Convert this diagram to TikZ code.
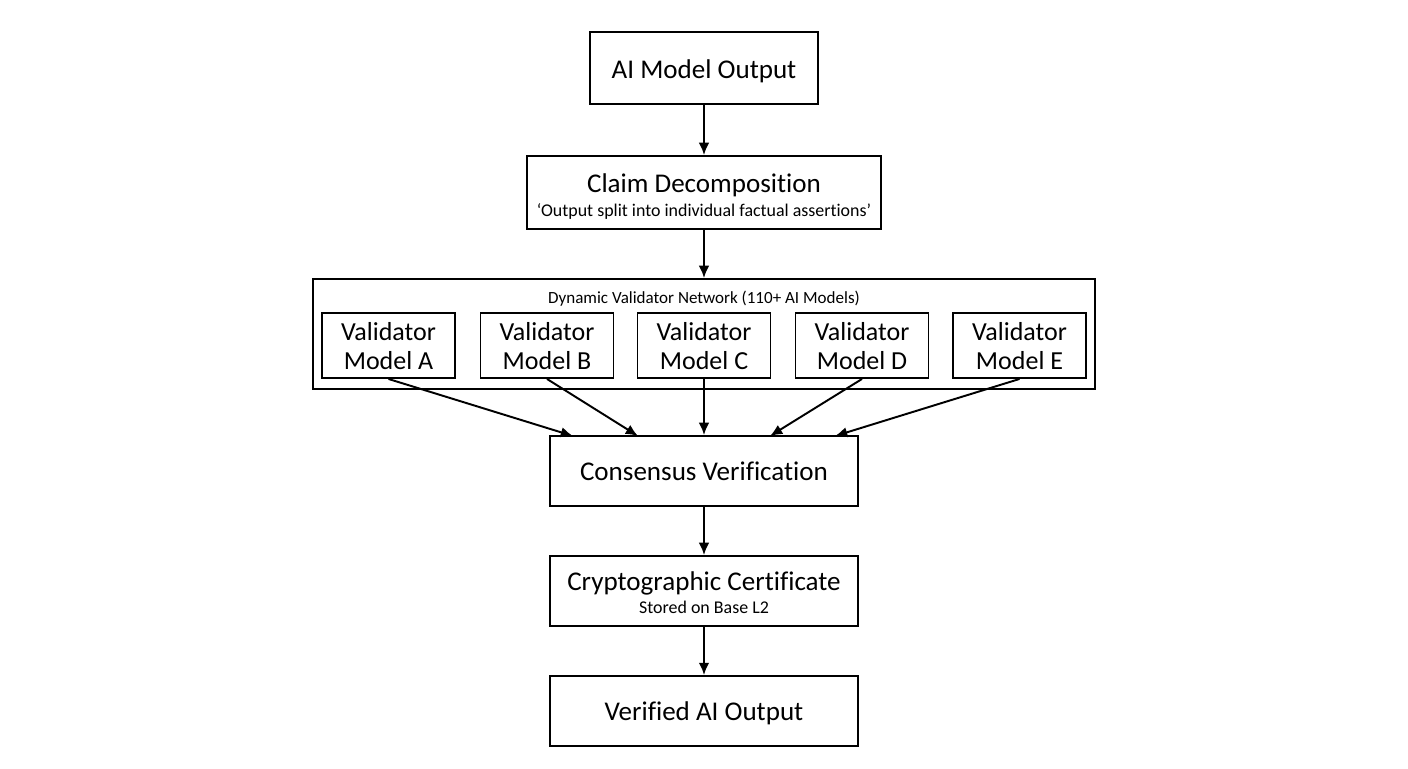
\documentclass[tikz,border=0pt]{standalone}
\usepackage{fontspec}
\setmainfont{Carlito}[Ligatures={NoCommon}]
\usetikzlibrary{arrows.meta}
\begin{document}
\begin{tikzpicture}[x=0.02cm,y=-0.02cm,
  box/.style={draw=black,line width=1.1pt,fill=white,inner sep=0pt},
  big/.style={anchor=base,inner sep=0pt,font=\fontsize{15.4}{18}\selectfont},
  vtxt/.style={anchor=base,inner sep=0pt,font=\fontsize{14.8}{17}\selectfont},
  sub/.style={anchor=base,inner sep=0pt,font=\fontsize{10.2}{12}\selectfont},
  vbox/.style={box,minimum width=133*0.02cm,minimum height=65*0.02cm},
  arr/.style={-{Latex[length=7pt,width=6pt]},line width=1.1pt}]
\useasboundingbox (0,0) rectangle (1408,768);
% boxes
\node[box,minimum width=228*0.02cm,minimum height=72*0.02cm] (out) at (704,68) {};
\node[box,minimum width=354*0.02cm,minimum height=73*0.02cm] (claim) at (704,192.5) {};
\node[draw=black,line width=1.1pt,minimum width=782*0.02cm,minimum height=110*0.02cm,inner sep=0pt] (net) at (704,334) {};
\node[vbox] (va) at (388.5,345.5) {};
\node[vbox] (vb) at (547,345.5) {};
\node[vbox] (vc) at (704,345.5) {};
\node[vbox] (vd) at (862,345.5) {};
\node[vbox] (ve) at (1019.5,345.5) {};
\node[box,minimum width=308*0.02cm,minimum height=70*0.02cm] (cons) at (704,471) {};
\node[box,minimum width=308*0.02cm,minimum height=70*0.02cm] (cert) at (704,591) {};
\node[box,minimum width=308*0.02cm,minimum height=70*0.02cm] (ver) at (704,711) {};
% texts
\node[big] (outt) at (704,78) {AI Model Output};
\node[big] (claimt) at (704,192) {Claim Decomposition};
\node[sub] (claims) at (704,216) {‘Output split into individual factual assertions’};
\node[sub,font=\fontsize{9.7}{12}\selectfont] (nett) at (704,303) {Dynamic Validator Network (110+ AI Models)};
\foreach \n/\x/\l in {a/388.5/A,b/547/B,c/704/C,d/862/D,e/1019.5/E}{
  \node[vtxt] (v\n t1) at (\x,340) {Validator};
  \node[vtxt] (v\n t2) at (\x,369) {Model \l};
}
\node[big] (const) at (704,480) {Consensus Verification};
\node[big] (certt) at (704,590) {Cryptographic Certificate};
\node[sub] (certs) at (704,613) {Stored on Base L2};
\node[big] (vert) at (704,720) {Verified AI Output};
% connectors
\draw[arr] (out.south) -- (claim.north);
\draw[arr] (claim.south) -- (net.north);
\coordinate (ca) at (573,436);
\coordinate (cb) at (638,436);
\coordinate (cd) at (770,436);
\coordinate (ce) at (835,436);
\draw[arr] (va.south) -- (ca);
\draw[arr] (vb.south) -- (cb);
\draw[arr] (vc.south) -- (cons.north);
\draw[arr] (vd.south) -- (cd);
\draw[arr] (ve.south) -- (ce);
\draw[arr] (cons.south) -- (cert.north);
\draw[arr] (cert.south) -- (ver.north);
\end{tikzpicture}
\end{document}
